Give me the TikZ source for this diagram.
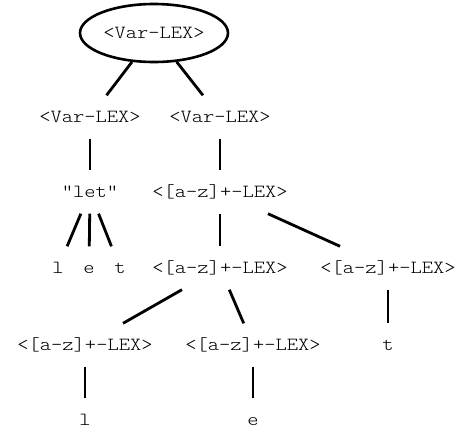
\documentclass[tikz,border=0pt]{standalone}
\usepackage{fontspec}
\newfontfamily\courfont{Latin Modern Mono Light}[FakeStretch=1.16]
\usetikzlibrary{shapes.geometric}
\begin{document}
\begin{tikzpicture}[x=1pt,y=-1pt,
  lbl/.style={font=\courfont\fontsize{18.5}{20}\selectfont, inner sep=0pt, minimum height=43pt, minimum width=20pt, text height=11pt, text depth=0pt},
  rootnode/.style={lbl, ellipse, draw, line width=2.6pt, minimum width=148pt, minimum height=58pt},
  edge/.style={line width=2.8pt}]
\useasboundingbox (0,0) rectangle (474,445);
\node[rootnode] (root) at (154,33) {<Var-LEX>};
\node[lbl] (v1) at (90,117) {<Var-LEX>};
\node[lbl] (v2) at (220,117) {<Var-LEX>};
\node[lbl] (let) at (90,192) {"let"};
\node[lbl] (a1) at (220,192) {<[a-z]+-LEX>};
\node[lbl] (l1) at (58,268) {l};
\node[lbl] (e1) at (89,268) {e};
\node[lbl] (t1) at (120,268) {t};
\node[lbl] (a2) at (220,268) {<[a-z]+-LEX>};
\node[lbl] (a3) at (388,268) {<[a-z]+-LEX>};
\node[lbl] (a4) at (85,345) {<[a-z]+-LEX>};
\node[lbl] (a5) at (253,345) {<[a-z]+-LEX>};
\node[lbl] (t2) at (388,345) {t};
\node[lbl] (l2) at (85,420) {l};
\node[lbl] (e2) at (253,420) {e};
\draw[edge] (root) -- (v1);
\draw[edge] (root) -- (v2);
\draw[edge] (v1) -- (let);
\draw[edge] (v2) -- (a1);
\draw[edge] (let) -- (l1);
\draw[edge] (let) -- (e1);
\draw[edge] (let) -- (t1);
\draw[edge] (a1) -- (a2);
\draw[edge] (a1) -- (a3);
\draw[edge] (a2) -- (a4);
\draw[edge] (a2) -- (a5);
\draw[edge] (a3) -- (t2);
\draw[edge] (a4) -- (l2);
\draw[edge] (a5) -- (e2);
\end{tikzpicture}
\end{document}
